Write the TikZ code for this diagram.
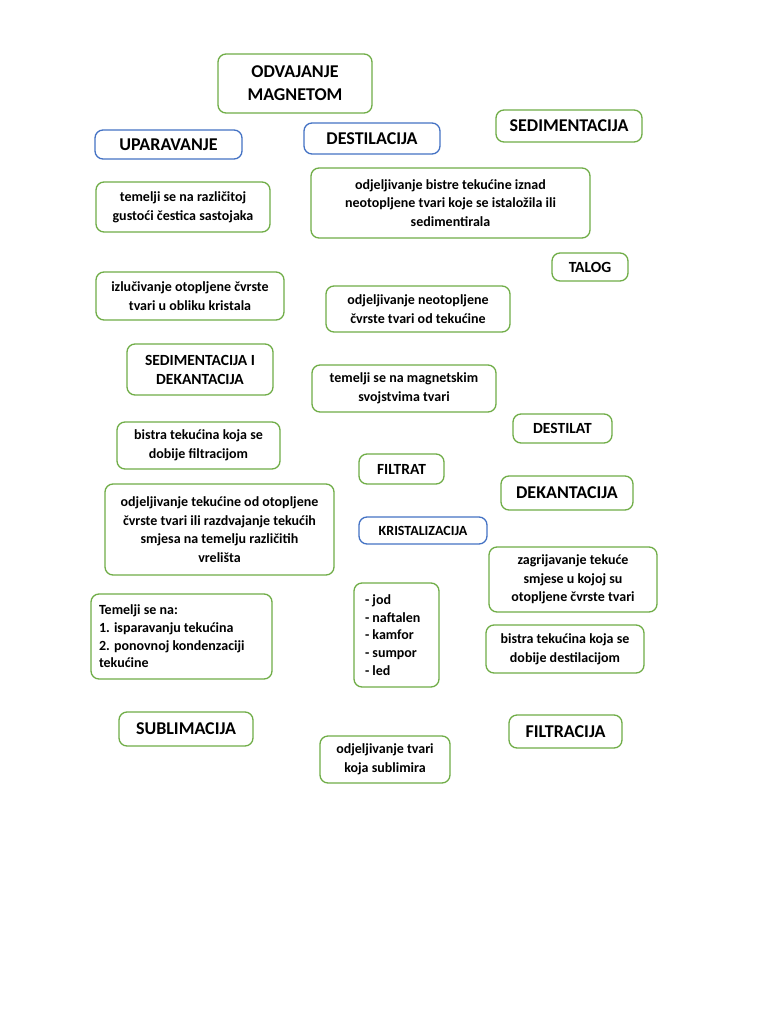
\documentclass[tikz,border=0pt]{standalone}
\usepackage{fontspec}
\setmainfont{Carlito}
\definecolor{gr}{HTML}{70AD47}
\definecolor{bl}{HTML}{4472C4}
\tikzset{
  box/.style={draw=gr, line width=1.3pt, rounded corners=8pt, inner sep=0pt, align=center, font=\bfseries\fontsize{14}{18.6}\selectfont},
  bbox/.style={box, draw=bl},
  big/.style={font=\bfseries\fontsize{18}{23}\selectfont},
  mid/.style={font=\bfseries\fontsize{15.5}{19}\selectfont},
  sml/.style={font=\bfseries\fontsize{14}{16}\selectfont},
  lst/.style={font=\bfseries\fontsize{14}{17.7}\selectfont, align=flush left},
  sz/.style n args={2}{minimum width=#1, minimum height=#2},
}
\begin{document}
\begin{tikzpicture}[x=1pt,y=-1pt]
\useasboundingbox (0,0) rectangle (768,1024);
\fill[white] (0,0) rectangle (768,1024);
\node[box,big,sz={154}{59}] (odv) at (295,83.5) {ODVAJANJE\\MAGNETOM};
\node[bbox,big,sz={147}{29}] (upar) at (168.5,144.5) {UPARAVANJE};
\node[bbox,big,sz={136}{31}] (dest) at (372,138.5) {DESTILACIJA};
\node[box,big,sz={146}{32}] (sedim) at (569,126) {SEDIMENTACIJA};
\node[box,sz={174}{50}] (t1) at (183,207) {temelji se na različitoj\\gustoći čestica sastojaka};
\node[box,sz={279}{70}] (t2) at (450.5,203) {odjeljivanje bistre tekućine iznad\\neotopljene tvari koje se istaložila ili\\sedimentirala};
\node[box,mid,sz={76}{28}] (talog) at (590,267) {TALOG};
\node[box,sz={188}{48}] (t3) at (190,296) {izlučivanje otopljene čvrste\\tvari u obliku kristala};
\node[box,sz={184}{46}] (t4) at (418,309) {odjeljivanje neotopljene\\čvrste tvari od tekućine};
\node[box,mid,sz={146}{51}] (sidk) at (200,369.5) {SEDIMENTACIJA I\\DEKANTACIJA};
\node[box,sz={184}{47}] (t5) at (404,388.5) {temelji se na magnetskim\\svojstvima tvari};
\node[box,mid,sz={99}{29}] (destilat) at (562.5,428.5) {DESTILAT};
\node[box,sz={163}{47}] (t6) at (198.5,445.5) {bistra tekućina koja se\\dobije filtracijom};
\node[box,mid,sz={85}{30}] (filtrat) at (401.5,469) {FILTRAT};
\node[box,big,sz={132}{34}] (dekant) at (567,493) {DEKANTACIJA};
\node[box,sz={229}{91}] (t7) at (219.5,529.5) {odjeljivanje tekućine od otopljene\\čvrste tvari ili razdvajanje tekućih\\smjesa na temelju različitih\\vrelišta};
\node[bbox,sml,sz={128}{27}] (krist) at (423,530.5) {KRISTALIZACIJA};
\node[box,sz={168}{65}] (t8) at (573,579.5) {zagrijavanje tekuće\\smjese u kojoj su\\otopljene čvrste tvari};
\node[box,lst,sz={85}{104},text width=63] (list) at (396.5,635) {- jod\\- naftalen\\- kamfor\\- sumpor\\- led};
\node[box,lst,sz={181}{85},text width=165] (t9) at (181.5,636.5) {Temelji se na:\\1. isparavanju tekućina\\2. ponovnoj kondenzaciji\\tekućine};
\node[box,sz={158}{48}] (t10) at (565,649) {bistra tekućina koja se\\dobije destilacijom};
\node[box,big,sz={134}{34}] (subl) at (186,729) {SUBLIMACIJA};
\node[box,big,sz={113}{33}] (filtr) at (565.5,731.5) {FILTRACIJA};
\node[box,sz={130}{47}] (t11) at (385,759.5) {odjeljivanje tvari\\koja sublimira};
\end{tikzpicture}
\end{document}
